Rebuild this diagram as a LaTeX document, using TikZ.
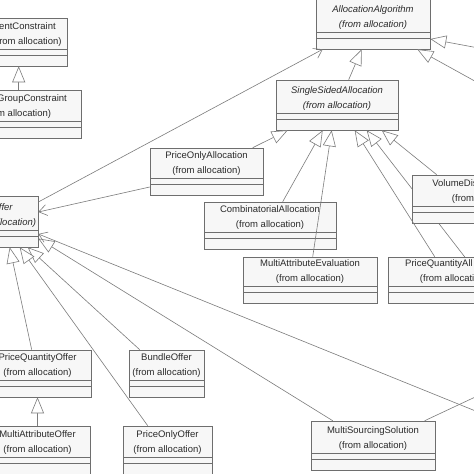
\documentclass[tikz,border=0pt]{standalone}
\usepackage{fontspec}
\setmainfont{Liberation Sans}
\usetikzlibrary{arrows.meta}
\definecolor{boxline}{HTML}{6E6E6E}
\definecolor{boxfill}{HTML}{F7F7F7}
\definecolor{wire}{HTML}{7C7C7C}
\definecolor{ink}{HTML}{2B2B2B}
\tikzset{
  pics/umlclass/.style n args={3}{code={
    \node[classbox, #1] (-box) {};
    \node[classname, #3] (-name) at ([yshift=32pt]-box.south) {#2};
  }},
}
\begin{document}
\begin{tikzpicture}[x=1pt, y=-1pt,
  classbox/.style={draw=boxline, fill=boxfill, line width=0.6pt, inner sep=0pt, minimum height=48pt,
    path picture={\draw[boxline, line width=0.6pt]
      ([yshift=17pt]path picture bounding box.south west) -- ([yshift=17pt]path picture bounding box.south east)
      ([yshift=11pt]path picture bounding box.south west) -- ([yshift=11pt]path picture bounding box.south east);}},
  classname/.style={font=\fontsize{9.5}{14.5}\selectfont, text=ink, align=center, inner sep=0pt},
  abstract/.style={font=\fontsize{9.5}{14.5}\selectfont\itshape},
  gen/.style={draw=wire, line width=0.6pt, -{Triangle[length=16pt, width=13pt, fill=white]}},
  assoc/.style={draw=wire, line width=0.6pt, -{Straight Barb[length=8pt, width=11pt]}},
  link/.style={draw=wire, line width=0.6pt},
]
\useasboundingbox (0,0) rectangle (474,474);
\fill[white] (0,0) rectangle (474,474);
\clip (0,0) rectangle (474,474);

\pic (ec) at (27.5,42) {umlclass={minimum width=79pt}{entConstraint\\(from allocation)}{}};
\pic (gc) at (17,114) {umlclass={minimum width=128pt}{\hspace*{30pt}GroupConstraint\\(from allocation)}{}};
\pic (aa) at (373,23) {umlclass={minimum width=114pt, minimum height=52pt}{AllocationAlgorithm\\(from allocation)}{abstract}};
\pic (ssa) at (337,105) {umlclass={minimum width=122pt, minimum height=50pt}{SingleSidedAllocation\\(from allocation)}{abstract}};
\pic (poa) at (206.5,171.5) {umlclass={minimum width=113pt, minimum height=47pt}{PriceOnlyAllocation\\(from allocation)}{}};
\pic (of) at (-2,221.5) {umlclass={minimum width=80pt, minimum height=51pt}{\hspace*{7.5pt}ffer\\(from allocation)}{abstract, xshift=4pt}};
\pic (ca) at (270,225.5) {umlclass={minimum width=132pt, minimum height=47pt}{CombinatorialAllocation\\(from allocation)}{}};
\pic (mae) at (310,280) {umlclass={minimum width=134pt, minimum height=46pt}{MultiAttributeEvaluation\\(from allocation)}{}};

\coordinate (farpqa) at (560,380);
\draw[gen] (farpqa) -- ([xshift=91pt]ssa-box.south west);

\pic (pqa) at (454,280) {umlclass={minimum width=132pt, minimum height=46pt}{PriceQuantityAll\hspace*{30pt}\\(from allocation)}{}};
\pic (vd) at (486,199) {umlclass={minimum width=148pt}{VolumeDis\hspace*{62pt}\\(from allocation)}{}};
\pic (pqo) at (37.5,373.5) {umlclass={minimum width=107pt, minimum height=47pt}{PriceQuantityOffer\\(from allocation)}{}};
\pic (bo) at (166.5,373.5) {umlclass={minimum width=75pt, minimum height=47pt}{BundleOffer\\(from allocation)}{}};
\pic (mao) at (37.5,450) {umlclass={minimum width=105pt}{MultiAttributeOffer\\(from allocation)}{}};
\pic (poo) at (167.5,450) {umlclass={minimum width=89pt}{PriceOnlyOffer\\(from allocation)}{}};
\pic (mss) at (373,445.5) {umlclass={minimum width=124pt, minimum height=49pt}{MultiSourcingSolution\\(from allocation)}{}};

\coordinate (faraa1) at (500,52);
\coordinate (faraa2) at (500,95);
\coordinate (farright) at (520,429);
\coordinate (farmss) at (520,376);

\draw[gen] ([xshift=66pt]gc-box.north west) -- ([xshift=31pt]ec-box.south west);
\draw[gen] ([xshift=73pt]ssa-box.north west) -- ([xshift=46pt]aa-box.south west);
\draw[gen] (faraa1) -- ([yshift=-16pt]aa-box.east);
\draw[gen] (faraa2) -- ([xshift=-13pt]aa-box.south east);
\draw[gen] ([xshift=103pt]poa-box.north west) -- ([xshift=12pt]ssa-box.south west);
\draw[gen] ([xshift=79pt]ca-box.north west) -- ([xshift=47pt]ssa-box.south west);
\draw[gen] ([xshift=70pt]mae-box.north west) -- ([xshift=56pt]ssa-box.south west);
\draw[gen] ([xshift=47pt]pqa-box.north west) -- ([xshift=79pt]ssa-box.south west);
\draw[gen] ([xshift=25pt]vd-box.north west) -- ([xshift=106pt]ssa-box.south west);
\draw[gen] (mao-box.north) -- (pqo-box.south);
\draw[gen] ([xshift=48pt]pqo-box.north west) -- ([xshift=52pt]of-box.south west);
\draw[gen] ([xshift=11pt]bo-box.north west) -- ([xshift=70pt]of-box.south west);
\draw[gen] ([xshift=25pt]poo-box.north west) -- ([xshift=62pt]of-box.south west);
\draw[gen] ([xshift=22pt]mss-box.north west) -- ([yshift=-17pt]of-box.east);
\draw[assoc] ([yshift=19.5pt]of-box.east) -- ([xshift=7pt]aa-box.south west);
\draw[assoc] ([yshift=-15.5pt]poa-box.west) -- ([yshift=9.5pt]of-box.east);
\draw[assoc] (farright) -- ([yshift=-12.5pt]of-box.east);
\draw[link] ([xshift=114pt]mss-box.north west) -- (farmss);
\end{tikzpicture}
\end{document}
